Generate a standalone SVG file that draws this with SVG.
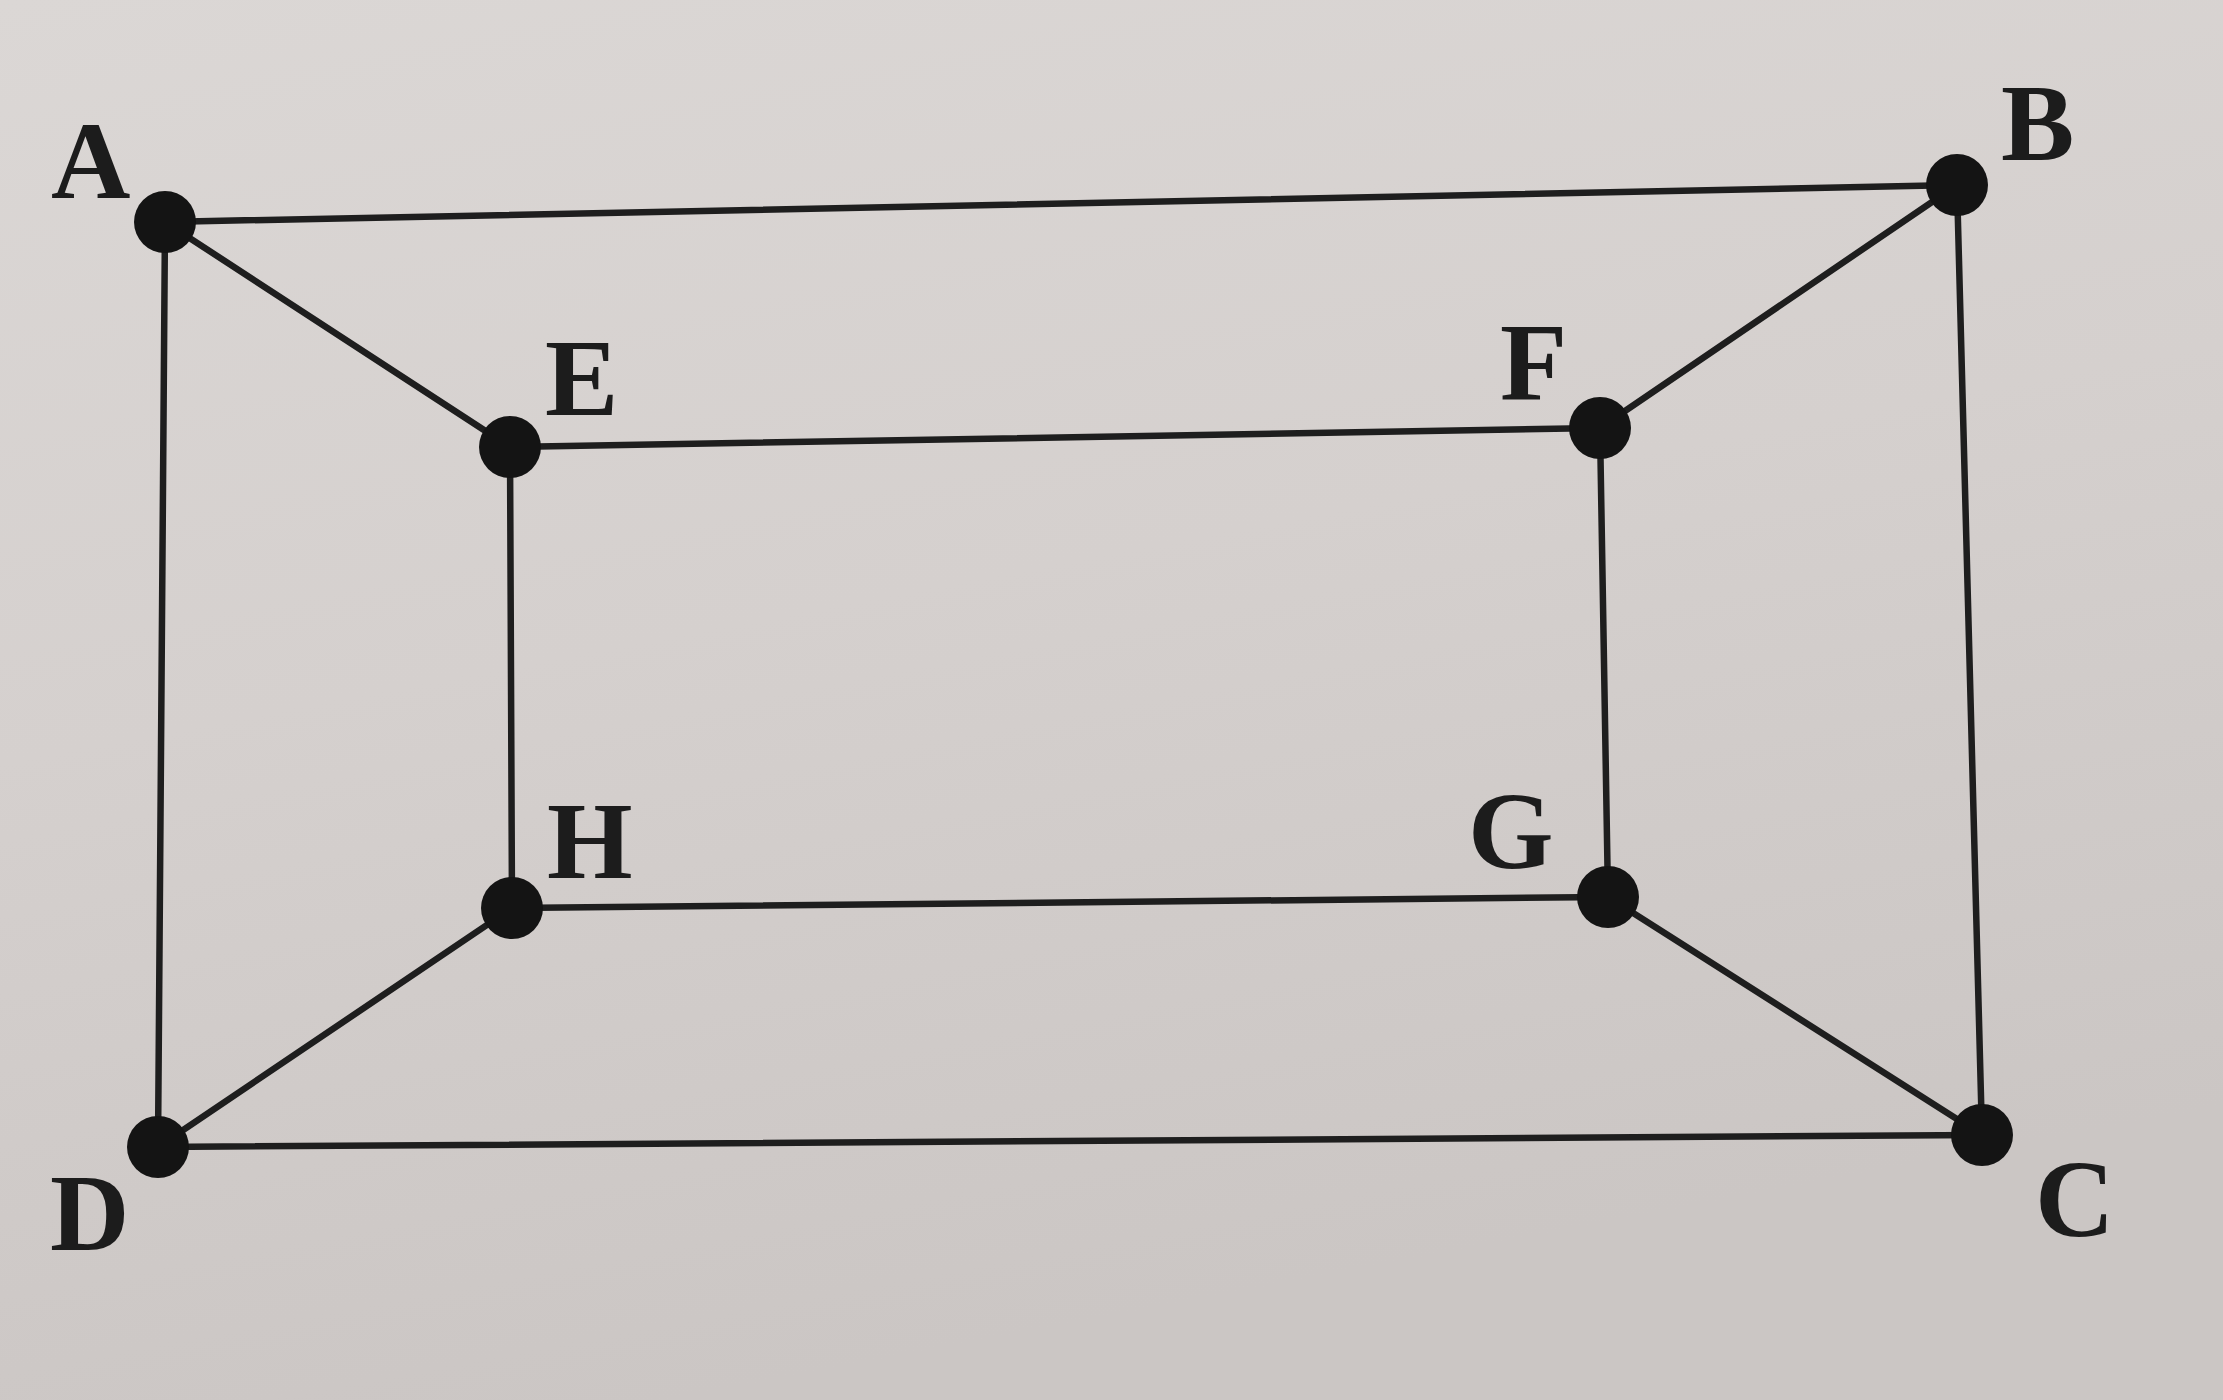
<svg xmlns="http://www.w3.org/2000/svg" width="2223" height="1400" viewBox="0 0 2223 1400">
<defs>
<linearGradient id="bg" x1="0" y1="0" x2="0.3" y2="1">
<stop offset="0" stop-color="#dbd7d5"/>
<stop offset="0.5" stop-color="#d5d0ce"/>
<stop offset="1" stop-color="#cbc6c4"/>
</linearGradient>
<style>
.edge{stroke:#1e1e1e;stroke-width:6.5;stroke-linecap:round;fill:none}
.node circle{fill:#141414}
.lbl{font-family:"Liberation Serif","Times New Roman",serif;font-weight:bold;font-size:110px;fill:#1c1c1c}
</style>
</defs>
<rect x="0" y="0" width="2223" height="1400" fill="url(#bg)"/>
<g id="connectors">
<line class="edge" x1="165" y1="222" x2="1957" y2="185"/>
<line class="edge" x1="165" y1="222" x2="510" y2="447"/>
<line class="edge" x1="165" y1="222" x2="158" y2="1147"/>
<line class="edge" x1="1957" y1="185" x2="1600" y2="428"/>
<line class="edge" x1="1957" y1="185" x2="1982" y2="1135"/>
<line class="edge" x1="510" y1="447" x2="1600" y2="428"/>
<line class="edge" x1="510" y1="447" x2="512" y2="908"/>
<line class="edge" x1="1600" y1="428" x2="1608" y2="897"/>
<line class="edge" x1="1608" y1="897" x2="512" y2="908"/>
<line class="edge" x1="1608" y1="897" x2="1982" y2="1135"/>
<line class="edge" x1="512" y1="908" x2="158" y2="1147"/>
<line class="edge" x1="158" y1="1147" x2="1982" y2="1135"/>
</g>
<g id="node-A" class="node"><circle cx="165" cy="222" r="31"/><text class="lbl" x="51" y="198">A</text></g>
<g id="node-B" class="node"><circle cx="1957" cy="185" r="31"/><text class="lbl" x="2001" y="160">B</text></g>
<g id="node-C" class="node"><circle cx="1982" cy="1135" r="31"/><text class="lbl" x="2035" y="1236">C</text></g>
<g id="node-D" class="node"><circle cx="158" cy="1147" r="31"/><text class="lbl" x="50" y="1250">D</text></g>
<g id="node-E" class="node"><circle cx="510" cy="447" r="31"/><text class="lbl" x="545" y="415">E</text></g>
<g id="node-F" class="node"><circle cx="1600" cy="428" r="31"/><text class="lbl" x="1500" y="400">F</text></g>
<g id="node-G" class="node"><circle cx="1608" cy="897" r="31"/><text class="lbl" x="1468" y="868">G</text></g>
<g id="node-H" class="node"><circle cx="512" cy="908" r="31"/><text class="lbl" x="547" y="878">H</text></g>
</svg>
